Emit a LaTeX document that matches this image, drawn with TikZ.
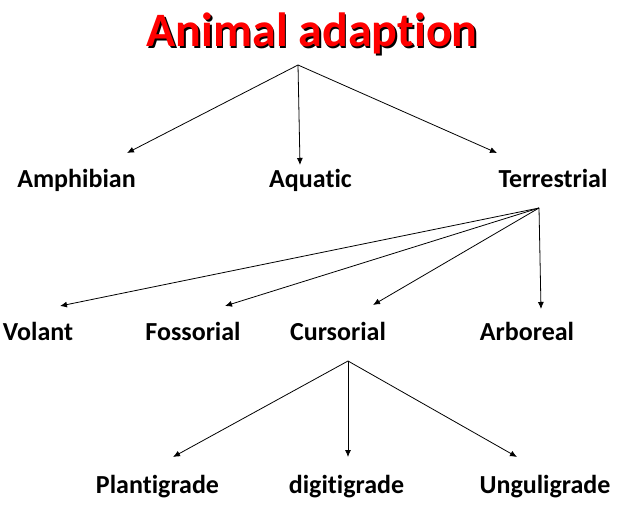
\documentclass[tikz,border=0pt]{standalone}
\usepackage{fontspec}
\setmainfont[Ligatures={NoCommon,NoRequired,NoContextual,NoDiscretionary}]{Carlito}
\usetikzlibrary{arrows.meta}
\begin{document}
\begin{tikzpicture}[x=1pt,y=-1pt,
  lbl/.style={font=\bfseries\fontsize{26}{30}\selectfont, anchor=base, inner sep=0pt},
  ttl/.style={font=\bfseries\fontsize{48}{54}\selectfont, anchor=base, inner sep=0pt},
  arr/.style={draw=black, line width=0.8pt, -{Latex[length=7pt,width=6pt]}}]
\useasboundingbox[fill=white] (0,0) rectangle (628,521);
% title with shadow
\node[ttl, text=black] (titleshadow) at (313.5,48.5) {Animal adaption};
\node[ttl, text=red] (title) at (312,47) {Animal adaption};
% hubs
\coordinate (h0) at (298,65);
\coordinate (h1) at (539,208);
\coordinate (h2) at (348,361);
% level 1
\node[lbl] (amph) at (76.5,188) {Amphibian};
\node[lbl] (aqua) at (310.5,188) {Aquatic};
\node[lbl] (terr) at (553,188) {Terrestrial};
\coordinate (tamph) at (127,153);
\coordinate (taqua) at (300,165);
\coordinate (tterr) at (497,153);
% level 2
\node[lbl] (vol) at (38,340) {Volant};
\node[lbl] (fos) at (193,340) {Fossorial};
\node[lbl] (cur) at (338,340) {Cursorial};
\node[lbl] (arb) at (527,340) {Arboreal};
\coordinate (tvol) at (60,306);
\coordinate (tfos) at (225,306);
\coordinate (tcur) at (373,305);
\coordinate (tarb) at (541,309);
% level 3
\node[lbl] (pla) at (157.5,493) {Plantigrade};
\node[lbl] (dig) at (346.5,493) {digitigrade};
\node[lbl] (ung) at (545,493) {Unguligrade};
\coordinate (tpla) at (173,457);
\coordinate (tdig) at (348,457);
\coordinate (tung) at (517,457);
% arrows
\draw[arr] (h0) -- (tamph);
\draw[arr] (h0) -- (taqua);
\draw[arr] (h0) -- (tterr);
\draw[arr] (h1) -- (tvol);
\draw[arr] (h1) -- (tfos);
\draw[arr] (h1) -- (tcur);
\draw[arr] (h1) -- (tarb);
\draw[arr] (h2) -- (tpla);
\draw[arr] (h2) -- (tdig);
\draw[arr] (h2) -- (tung);
\end{tikzpicture}
\end{document}
